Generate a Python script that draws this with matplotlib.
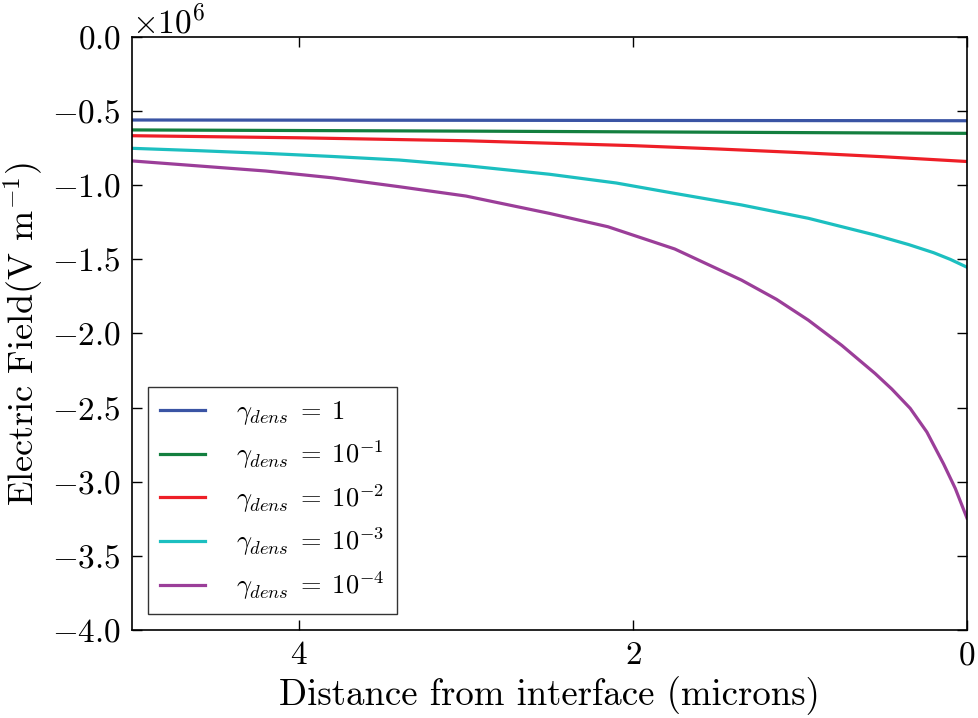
import numpy as np
import matplotlib
matplotlib.use("Agg")
import matplotlib.pyplot as plt

plt.rcParams['font.family'] = 'serif'
plt.rcParams['font.serif'] = ['cmr10']
plt.rcParams['mathtext.fontset'] = 'cm'
plt.rcParams['axes.formatter.use_mathtext'] = True
plt.rcParams['axes.unicode_minus'] = True

# Distance from interface (microns) and electric field (units of 1e6 V/m)
x_blue = [5.0, 4.0, 3.0, 2.0, 1.0, 0.0]
e_blue = [-0.560, -0.561, -0.562, -0.563, -0.564, -0.565]

x_green = [5.0, 4.0, 3.0, 2.0, 1.0, 0.0]
e_green = [-0.627, -0.631, -0.635, -0.640, -0.645, -0.650]

x_red = [5.0, 4.0, 3.0, 2.0, 1.5, 1.0, 0.5, 0.0]
e_red = [-0.666, -0.680, -0.700, -0.733, -0.755, -0.780, -0.808, -0.840]

x_cyan = [5.0, 4.6, 4.2, 3.8, 3.4, 3.0, 2.5, 2.1, 1.75, 1.35, 0.95, 0.55,
          0.35, 0.2, 0.1, 0.0]
e_cyan = [-0.751, -0.767, -0.785, -0.806, -0.830, -0.868, -0.926, -0.985,
          -1.055, -1.133, -1.223, -1.336, -1.400, -1.455, -1.500, -1.553]

x_mag = [5.0, 4.6, 4.2, 3.8, 3.4, 3.0, 2.5, 2.15, 1.75, 1.35, 1.14, 0.95,
         0.75, 0.55, 0.45, 0.34, 0.24, 0.14, 0.07, 0.0]
e_mag = [-0.836, -0.870, -0.904, -0.950, -1.010, -1.073, -1.190, -1.280,
         -1.430, -1.640, -1.770, -1.910, -2.080, -2.270, -2.375, -2.505,
         -2.665, -2.880, -3.045, -3.245]

labels = [r'$\gamma_{dens}\;=\;1$',
          r'$\gamma_{dens}\;=\;10^{-1}$',
          r'$\gamma_{dens}\;=\;10^{-2}$',
          r'$\gamma_{dens}\;=\;10^{-3}$',
          r'$\gamma_{dens}\;=\;10^{-4}$']
colors = ['#3a54a4', '#137f3f', '#ee1f27', '#1cbfc0', '#9b3e99']

series = [(x_blue, e_blue), (x_green, e_green), (x_red, e_red),
          (x_cyan, e_cyan), (x_mag, e_mag)]

fig = plt.figure(figsize=(9.79, 7.18), dpi=100)
ax = fig.add_axes([0.1348, 0.1226, 0.8529, 0.8259])

for (xs, es), lab, c in zip(series, labels, colors):
    ax.plot(xs, np.array(es) * 1e6, color=c, lw=2.3, label=lab)

ax.set_xlim(5, 0)
ax.set_ylim(-4e6, 0)
ax.set_xticks([4, 2, 0])
ax.set_yticks(np.arange(-4.0, 0.01, 0.5) * 1e6)
ax.tick_params(direction='in', top=True, right=True, length=7, width=1,
               labelsize=24, pad=8)
for s in ax.spines.values():
    s.set_linewidth(1.2)
ax.yaxis.get_offset_text().set_fontsize(24)

ax.set_xlabel('Distance from interface (microns)', fontsize=26.5)
ax.set_ylabel(r'Electric Field(V m$^{-1}$)', fontsize=26)

leg = ax.legend(loc='lower left', fontsize=19, handlelength=1.7,
                handletextpad=1.2, labelspacing=0.42, borderpad=0.45,
                borderaxespad=0.6, fancybox=False, edgecolor='black')
leg.get_frame().set_linewidth(1.0)

fig.savefig('out.png', dpi=100)
